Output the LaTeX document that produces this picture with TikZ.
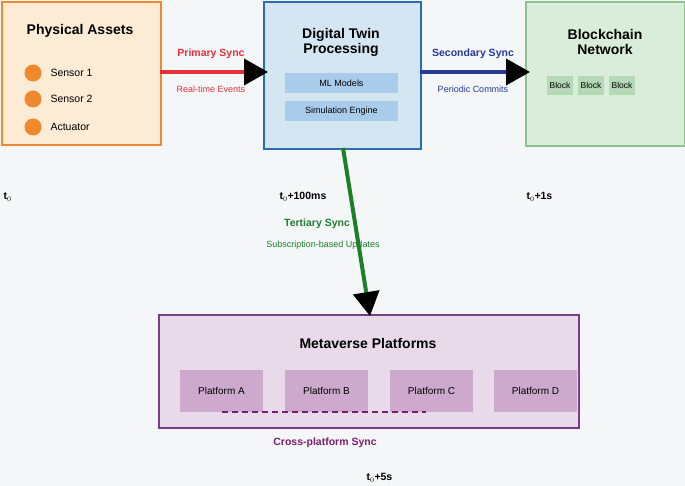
\documentclass[tikz,border=0pt]{standalone}
\usepackage{fontspec}
\setmainfont{Liberation Sans}
\usetikzlibrary{arrows.meta}
\definecolor{bg}{HTML}{F4F6F8}
\definecolor{orf}{HTML}{FCEBD5}\definecolor{ord}{HTML}{F0882E}
\definecolor{blf}{HTML}{D5E6F3}\definecolor{bld}{HTML}{2B6DB5}\definecolor{bli}{HTML}{A9CCEA}
\definecolor{grf}{HTML}{DAEDDA}\definecolor{grd}{HTML}{8CC38E}\definecolor{gri}{HTML}{B5D9B5}
\definecolor{puf}{HTML}{E8DAE8}\definecolor{pud}{HTML}{7A3D8A}\definecolor{pui}{HTML}{CDAACD}
\definecolor{redc}{HTML}{E8303A}\definecolor{navy}{HTML}{263A96}\definecolor{grc}{HTML}{1E7F2A}\definecolor{pur}{HTML}{7A1E6E}
\tikzset{
 box/.style={draw,line width=1.8pt,inner sep=0pt,anchor=north west},
 inner/.style={inner sep=0pt,anchor=north west},
 title/.style={font=\bfseries\fontsize{14}{16}\selectfont,align=center},
 lbl/.style={font=\fontsize{9}{10}\selectfont},
 blbl/.style={font=\bfseries\fontsize{10.5}{12}\selectfont},
 tm/.style={font=\bfseries\fontsize{10.5}{12}\selectfont,anchor=west},
 big/.style={-{Triangle[length=24pt,width=26pt,color=black]},line width=4pt},
 dot/.style={circle,fill=ord,minimum size=17pt,inner sep=0pt}
}
\begin{document}
\begin{tikzpicture}[x=1pt,y=-1pt]
\fill[bg] (0,0) rectangle (685,486);
\useasboundingbox (0,0) rectangle (685,486);
\node[box,draw=ord,fill=orf,minimum width=159pt,minimum height=143pt] (pa) at (1,1) {};
\node[box,draw=bld,fill=blf,minimum width=157pt,minimum height=147pt] (dt) at (263,1) {};
\node[box,draw=grd,fill=grf,minimum width=159pt,minimum height=144pt] (bc) at (525,1) {};
\node[box,draw=pud,fill=puf,minimum width=420pt,minimum height=113pt] (mv) at (158,314) {};
\node[title] (pat) at (80,31) {Physical Assets};
\node[title] (dtt) at (341,42) {Digital Twin\\[-1pt]Processing};
\node[title] (bct) at (605,42) {Blockchain\\[-1pt]Network};
\node[title] (mvt) at (368,343) {Metaverse Platforms};
\foreach \y/\t/\n in {73/Sensor 1/s1,99/Sensor 2/s2,127/Actuator/s3}{
 \node[dot] (\n) at (33,\y) {};
 \node[anchor=west,font=\fontsize{10.5}{12}\selectfont] (\n t) at (47,\y) {\t};
}
\node[inner,fill=bli,minimum width=113pt,minimum height=20pt] (ml) at (285,73) {};
\node (mlt) at (341.5,83) [lbl] {ML Models};
\node[inner,fill=bli,minimum width=113pt,minimum height=20pt] (se) at (285,101) {};
\node (set) at (341.5,111) [lbl] {Simulation Engine};
\foreach \x/\n in {547/b1,578/b2,609/b3}{
 \node[inner,fill=gri,minimum width=26pt,minimum height=19pt] (\n) at (\x,76) {};
 \node[font=\fontsize{8.5}{9}\selectfont] (\n t) at (\x+13,85.5) {Block};
}
\foreach \x/\l/\n in {180/A/pA,285/B/pB,390/C/pC,494/D/pD}{
 \node[inner,fill=pui,minimum width=83pt,minimum height=42pt] (\n) at (\x,370) {};
 \node[font=\fontsize{10}{11}\selectfont] (\n t) at (\x+41.5,391) {Platform \l};
}
\coordinate (d1) at (222,412); \coordinate (d2) at (426,412);
\draw[pur,line width=2.2pt,dash pattern=on 6pt off 4pt] (d1) -- (d2);
\coordinate (r1) at (160,72); \coordinate (r2) at (268,72);
\draw[big,redc] (r1) -- (r2);
\coordinate (n1) at (420,72); \coordinate (n2) at (530,72);
\draw[big,navy] (n1) -- (n2);
\coordinate (g1) at (343,148); \coordinate (g2) at (370,316);
\draw[big,grc] (g1) -- (g2);
\node[blbl,text=redc] (l1) at (211,54) {Primary Sync};
\node[lbl,text=redc] (l2) at (211,89) {Real-time Events};
\node[blbl,text=navy] (l3) at (473,54) {Secondary Sync};
\node[lbl,text=navy] (l4) at (473,89) {Periodic Commits};
\node[blbl,text=grc] (l5) at (317,224) {Tertiary Sync};
\node[lbl,text=grc] (l6) at (323,245) {Subscription-based Updates};
\node[blbl,text=pur] (l7) at (325,443) {Cross-platform Sync};
\node[tm] (t0) at (0,197) {t$_0$};
\node[tm] (t1) at (276,197) {t$_0$+100ms};
\node[tm] (t2) at (523,197) {t$_0$+1s};
\node[tm] (t3) at (363,478) {t$_0$+5s};
\end{tikzpicture}
\end{document}
